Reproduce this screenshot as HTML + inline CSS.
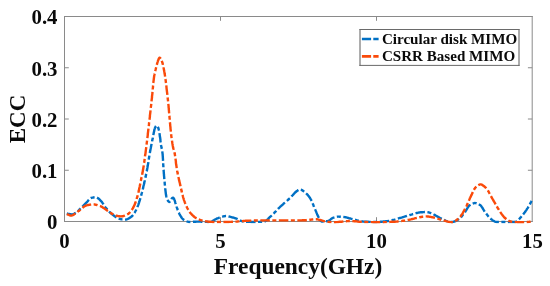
<!DOCTYPE html>
<html><head><meta charset="utf-8"><title>ECC vs Frequency</title>
<style>html,body{margin:0;padding:0;background:#fff;overflow:hidden}</style></head>
<body>
<svg width="550" height="286" viewBox="0 0 550 286" style="display:block">
<rect width="550" height="286" fill="#fff"/>
<g stroke="#8a8a8a" stroke-width="1" fill="none">
<path d="M64.5,16.0V222.0M532.2,16.0V222.0M64.0,16.5H532.7M64.0,221.5H532.7"/>
<path d="M220.5,221.5v-4.3M220.5,16.5v4.3"/>
<path d="M376.5,221.5v-4.3M376.5,16.5v4.3"/>
<path d="M64.5,170.25h4.3M532.2,170.25h-4.3"/>
<path d="M64.5,119.0h4.3M532.2,119.0h-4.3"/>
<path d="M64.5,67.75h4.3M532.2,67.75h-4.3"/>
</g>
<clipPath id="c"><rect x="63.5" y="16.5" width="470.0" height="207.0"/></clipPath>
<g fill="none" stroke-width="2.4" stroke-dasharray="9.5 2.5 4 2.5" stroke-linejoin="round" clip-path="url(#c)">
<path stroke="#0070C4" d="M66.8,213.4 L67.6,213.7 L68.3,213.9 L69.1,214.0 L69.9,214.2 L70.7,214.3 L71.5,214.4 L72.3,214.4 L73.0,214.2 L73.8,213.9 L74.5,213.5 L75.2,213.0 L75.9,212.6 L76.5,212.1 L77.2,211.6 L77.8,211.1 L78.4,210.6 L79.0,210.0 L79.5,209.4 L80.1,208.9 L80.7,208.3 L81.3,207.8 L81.9,207.2 L82.4,206.7 L83.0,206.1 L83.5,205.5 L84.1,204.9 L84.7,204.4 L85.2,203.8 L85.8,203.2 L86.4,202.7 L86.9,202.1 L87.5,201.5 L88.0,200.8 L88.5,200.1 L89.1,199.5 L89.6,198.9 L90.2,198.4 L90.9,198.0 L91.6,197.8 L92.3,197.6 L93.2,197.5 L94.0,197.3 L94.8,197.2 L95.6,197.2 L96.3,197.3 L97.0,197.6 L97.7,198.0 L98.4,198.6 L99.1,199.1 L99.7,199.7 L100.3,200.3 L100.8,200.8 L101.4,201.4 L101.9,202.0 L102.3,202.6 L102.8,203.3 L103.2,204.0 L103.7,204.7 L104.1,205.4 L104.6,206.1 L105.0,206.7 L105.5,207.4 L106.0,208.0 L106.5,208.6 L107.0,209.2 L107.6,209.8 L108.1,210.4 L108.7,211.0 L109.2,211.6 L109.8,212.2 L110.4,212.8 L111.0,213.3 L111.6,213.8 L112.2,214.3 L112.8,214.8 L113.4,215.3 L114.1,215.8 L114.7,216.3 L115.4,216.8 L116.1,217.2 L116.8,217.7 L117.5,218.1 L118.2,218.4 L118.9,218.7 L119.7,218.9 L120.4,219.1 L121.2,219.2 L122.0,219.4 L122.8,219.5 L123.7,219.5 L124.5,219.6 L125.2,219.6 L126.0,219.5 L126.8,219.3 L127.6,219.0 L128.4,218.6 L129.1,218.2 L129.8,217.8 L130.5,217.4 L131.1,216.9 L131.6,216.5 L132.2,216.0 L132.7,215.4 L133.2,214.8 L133.7,214.1 L134.1,213.4 L134.6,212.7 L135.0,212.0 L135.4,211.2 L135.8,210.5 L136.2,209.7 L136.5,209.0 L136.9,208.3 L137.2,207.6 L137.5,206.8 L137.8,206.1 L138.1,205.4 L138.4,204.6 L138.6,203.9 L138.9,203.1 L139.1,202.3 L139.4,201.5 L139.6,200.8 L139.9,200.0 L140.1,199.2 L140.3,198.4 L140.5,197.7 L140.7,196.9 L141.0,196.1 L141.2,195.4 L141.4,194.6 L141.6,193.8 L141.8,193.0 L142.0,192.3 L142.2,191.5 L142.4,190.7 L142.6,189.9 L142.8,189.1 L143.0,188.4 L143.2,187.6 L143.3,186.8 L143.5,186.0 L143.7,185.2 L143.9,184.5 L144.1,183.7 L144.3,182.9 L144.4,182.1 L144.6,181.3 L144.8,180.6 L145.0,179.8 L145.1,179.0 L145.3,178.2 L145.5,177.4 L145.7,176.6 L145.8,175.9 L146.0,175.1 L146.1,174.3 L146.3,173.5 L146.5,172.7 L146.6,171.9 L146.8,171.2 L146.9,170.4 L147.1,169.6 L147.2,168.8 L147.4,168.0 L147.5,167.2 L147.6,166.4 L147.8,165.6 L147.9,164.8 L148.0,164.1 L148.2,163.3 L148.3,162.5 L148.4,161.7 L148.5,160.9 L148.7,160.1 L148.8,159.3 L148.9,158.5 L149.0,157.7 L149.2,156.9 L149.3,156.1 L149.4,155.4 L149.6,154.6 L149.7,153.8 L149.8,153.0 L150.0,152.2 L150.1,151.4 L150.3,150.6 L150.4,149.8 L150.6,149.0 L150.7,148.3 L150.9,147.5 L151.0,146.7 L151.2,145.9 L151.3,145.1 L151.5,144.3 L151.6,143.5 L151.8,142.8 L152.0,142.0 L152.1,141.2 L152.3,140.4 L152.4,139.6 L152.6,138.8 L152.8,138.1 L152.9,137.3 L153.1,136.5 L153.3,135.7 L153.4,134.9 L153.5,134.1 L153.7,133.3 L153.8,132.5 L154.0,131.7 L154.2,130.9 L154.3,130.1 L154.5,129.3 L154.8,128.6 L155.0,127.9 L155.4,127.1 L155.9,126.2 L156.4,125.7 L156.9,125.7 L157.4,126.2 L157.9,127.1 L158.3,127.9 L158.5,128.6 L158.7,129.4 L158.9,130.1 L159.1,130.9 L159.2,131.7 L159.4,132.5 L159.5,133.3 L159.6,134.1 L159.7,134.9 L159.8,135.8 L159.9,136.6 L160.1,137.4 L160.2,138.1 L160.3,138.9 L160.4,139.7 L160.4,140.5 L160.5,141.3 L160.6,142.1 L160.7,142.9 L160.8,143.7 L160.9,144.5 L161.0,145.3 L161.2,146.1 L161.4,146.9 L161.5,147.7 L161.7,148.4 L161.9,149.2 L162.1,150.0 L162.2,150.8 L162.3,151.6 L162.4,152.4 L162.5,153.2 L162.6,154.0 L162.7,154.8 L162.7,155.6 L162.8,156.3 L162.8,157.1 L162.9,157.9 L162.9,158.7 L163.0,159.5 L163.0,160.3 L163.1,161.1 L163.1,162.0 L163.2,162.8 L163.2,163.6 L163.2,164.4 L163.3,165.2 L163.3,166.0 L163.4,166.8 L163.4,167.6 L163.5,168.4 L163.5,169.2 L163.6,170.0 L163.7,170.8 L163.7,171.6 L163.8,172.4 L163.8,173.2 L163.9,174.0 L164.0,174.8 L164.0,175.6 L164.1,176.4 L164.2,177.2 L164.2,178.0 L164.3,178.8 L164.4,179.5 L164.4,180.3 L164.5,181.1 L164.6,181.9 L164.7,182.7 L164.7,183.5 L164.8,184.3 L164.9,185.1 L165.0,185.9 L165.1,186.7 L165.2,187.5 L165.2,188.4 L165.3,189.2 L165.4,190.0 L165.5,190.8 L165.6,191.7 L165.7,192.5 L165.8,193.3 L165.9,194.1 L166.0,194.9 L166.2,195.7 L166.3,196.5 L166.5,197.2 L166.7,197.9 L166.9,198.6 L167.1,199.4 L167.6,200.2 L168.1,201.0 L168.7,201.6 L169.3,202.0 L169.7,201.8 L170.1,201.2 L170.5,200.3 L171.0,199.5 L171.5,198.8 L172.2,198.1 L172.8,197.7 L173.3,197.7 L173.7,198.3 L174.2,199.2 L174.5,200.0 L174.8,200.7 L175.0,201.5 L175.2,202.3 L175.4,203.1 L175.7,203.8 L175.9,204.6 L176.1,205.4 L176.4,206.1 L176.6,206.9 L176.9,207.7 L177.2,208.4 L177.4,209.2 L177.7,210.0 L178.0,210.7 L178.3,211.5 L178.6,212.2 L179.0,212.9 L179.3,213.7 L179.6,214.4 L180.0,215.0 L180.4,215.7 L180.9,216.4 L181.3,217.2 L181.8,217.9 L182.3,218.5 L182.9,219.1 L183.4,219.6 L184.0,220.0 L184.7,220.4 L185.4,220.7 L186.1,221.1 L186.9,221.4 L187.7,221.6 L188.5,221.8 L189.3,222.0 L190.1,222.0 L190.9,222.0 L191.7,222.0 L192.5,221.9 L193.3,221.8 L194.1,221.8 L194.9,221.7 L195.7,221.7 L196.5,221.6 L197.3,221.6 L198.1,221.6 L198.9,221.6 L199.7,221.6 L200.6,221.6 L201.4,221.7 L202.2,221.7 L203.0,221.7 L203.8,221.8 L204.6,221.8 L205.4,221.9 L206.2,221.9 L207.0,221.9 L207.8,222.0 L208.6,222.0 L209.4,222.0 L210.1,222.0 L210.9,221.9 L211.6,221.6 L212.3,221.3 L213.0,220.8 L213.7,220.4 L214.4,219.9 L215.1,219.5 L215.9,219.1 L216.6,218.7 L217.3,218.4 L218.1,218.1 L218.8,217.8 L219.5,217.5 L220.3,217.2 L221.1,217.0 L221.8,216.8 L222.6,216.6 L223.4,216.4 L224.2,216.2 L225.0,216.1 L225.8,216.0 L226.6,216.0 L227.4,216.1 L228.1,216.3 L228.9,216.5 L229.7,216.7 L230.5,216.9 L231.3,217.1 L232.0,217.3 L232.8,217.5 L233.6,217.7 L234.4,218.0 L235.1,218.2 L235.9,218.5 L236.6,218.7 L237.4,219.0 L238.1,219.4 L238.9,219.8 L239.6,220.1 L240.3,220.5 L241.1,220.8 L241.8,221.1 L242.6,221.3 L243.3,221.5 L244.1,221.6 L244.9,221.7 L245.7,221.7 L246.5,221.8 L247.3,221.8 L248.1,221.9 L248.9,221.9 L249.7,221.9 L250.5,221.9 L251.3,222.0 L252.1,222.0 L252.9,222.0 L253.7,222.0 L254.5,222.0 L255.3,222.0 L256.2,222.0 L257.0,222.0 L257.8,221.9 L258.6,221.9 L259.5,221.9 L260.3,221.8 L261.1,221.8 L261.9,221.8 L262.6,221.7 L263.4,221.7 L264.1,221.6 L264.8,221.4 L265.5,221.1 L266.1,220.7 L266.8,220.2 L267.4,219.6 L268.0,219.0 L268.6,218.3 L269.2,217.7 L269.8,217.2 L270.4,216.6 L271.0,216.1 L271.6,215.6 L272.2,215.0 L272.7,214.4 L273.3,213.9 L273.9,213.3 L274.4,212.7 L275.0,212.1 L275.5,211.6 L276.1,211.0 L276.6,210.4 L277.2,209.8 L277.8,209.2 L278.3,208.7 L278.9,208.1 L279.5,207.5 L280.0,207.0 L280.6,206.4 L281.2,205.9 L281.8,205.3 L282.4,204.8 L283.0,204.3 L283.6,203.7 L284.2,203.2 L284.8,202.7 L285.4,202.2 L286.0,201.6 L286.6,201.1 L287.2,200.6 L287.8,200.0 L288.4,199.5 L289.0,199.0 L289.6,198.4 L290.2,197.9 L290.7,197.3 L291.3,196.7 L291.8,196.1 L292.4,195.5 L292.9,194.9 L293.5,194.3 L294.0,193.7 L294.6,193.1 L295.1,192.5 L295.7,192.0 L296.3,191.5 L296.9,191.0 L297.6,190.6 L298.3,190.1 L299.0,189.7 L299.8,189.4 L300.5,189.5 L301.2,189.7 L301.9,190.1 L302.6,190.6 L303.3,191.1 L304.0,191.6 L304.6,192.1 L305.2,192.6 L305.8,193.1 L306.4,193.7 L307.0,194.2 L307.6,194.8 L308.1,195.5 L308.6,196.1 L309.1,196.7 L309.6,197.4 L310.0,198.0 L310.4,198.7 L310.8,199.3 L311.2,200.0 L311.5,200.7 L311.9,201.5 L312.2,202.2 L312.5,202.9 L312.8,203.7 L313.1,204.4 L313.4,205.2 L313.7,206.0 L314.0,206.7 L314.3,207.5 L314.7,208.2 L315.0,208.9 L315.3,209.7 L315.6,210.4 L315.9,211.2 L316.2,211.9 L316.5,212.7 L316.8,213.4 L317.1,214.2 L317.4,214.9 L317.8,215.7 L318.1,216.4 L318.5,217.1 L318.9,217.8 L319.3,218.5 L319.7,219.2 L320.2,220.1 L320.7,220.8 L321.3,221.3 L321.9,221.6 L322.5,221.6 L323.3,221.6 L324.1,221.5 L324.9,221.4 L325.8,221.3 L326.6,221.2 L327.4,221.1 L328.2,221.0 L328.9,220.7 L329.6,220.3 L330.2,219.8 L330.9,219.2 L331.5,218.7 L332.2,218.2 L332.9,217.8 L333.6,217.6 L334.4,217.3 L335.2,217.1 L336.0,216.9 L336.8,216.7 L337.5,216.6 L338.3,216.6 L339.1,216.6 L339.9,216.7 L340.7,216.7 L341.5,216.8 L342.3,216.8 L343.1,216.9 L343.9,217.0 L344.7,217.1 L345.5,217.2 L346.3,217.4 L347.1,217.6 L347.8,217.8 L348.6,218.0 L349.4,218.3 L350.2,218.5 L350.9,218.7 L351.7,218.9 L352.5,219.1 L353.3,219.3 L354.1,219.5 L354.8,219.7 L355.6,219.9 L356.4,220.1 L357.2,220.4 L358.0,220.6 L358.7,220.7 L359.5,220.9 L360.3,221.1 L361.1,221.2 L361.9,221.4 L362.7,221.5 L363.5,221.6 L364.2,221.6 L365.0,221.7 L365.8,221.7 L366.6,221.7 L367.4,221.8 L368.2,221.8 L369.0,221.9 L369.8,221.9 L370.6,221.9 L371.4,221.9 L372.2,222.0 L373.0,222.0 L373.9,222.0 L374.7,222.0 L375.5,222.0 L376.3,222.0 L377.1,222.0 L377.9,222.0 L378.7,221.9 L379.5,221.9 L380.3,221.8 L381.1,221.8 L381.9,221.7 L382.7,221.6 L383.5,221.5 L384.3,221.5 L385.1,221.4 L385.9,221.3 L386.6,221.2 L387.4,221.1 L388.2,221.0 L389.0,220.9 L389.8,220.7 L390.6,220.6 L391.4,220.4 L392.1,220.2 L392.9,220.0 L393.7,219.8 L394.5,219.6 L395.2,219.4 L396.0,219.1 L396.8,218.9 L397.6,218.7 L398.3,218.5 L399.1,218.2 L399.9,218.0 L400.7,217.8 L401.4,217.6 L402.2,217.4 L403.0,217.1 L403.7,216.9 L404.5,216.7 L405.3,216.4 L406.0,216.2 L406.8,216.0 L407.6,215.7 L408.3,215.5 L409.1,215.3 L409.9,215.0 L410.6,214.8 L411.4,214.6 L412.2,214.4 L412.9,214.1 L413.7,213.9 L414.5,213.6 L415.3,213.4 L416.0,213.2 L416.8,213.0 L417.6,212.8 L418.4,212.6 L419.1,212.5 L419.9,212.4 L420.7,212.3 L421.5,212.2 L422.3,212.2 L423.1,212.1 L423.9,212.1 L424.7,212.0 L425.5,212.0 L426.3,212.0 L427.1,212.1 L427.9,212.2 L428.7,212.4 L429.5,212.7 L430.2,212.9 L431.0,213.2 L431.7,213.5 L432.5,213.8 L433.2,214.1 L433.9,214.5 L434.6,214.8 L435.3,215.2 L436.0,215.7 L436.7,216.1 L437.4,216.5 L438.1,216.9 L438.8,217.4 L439.5,217.7 L440.2,218.1 L440.9,218.4 L441.6,218.8 L442.4,219.2 L443.1,219.5 L443.8,219.9 L444.6,220.2 L445.3,220.5 L446.0,220.8 L446.8,221.1 L447.6,221.3 L448.3,221.5 L449.1,221.6 L449.9,221.8 L450.7,221.9 L451.5,222.0 L452.3,222.0 L453.1,221.9 L453.8,221.7 L454.6,221.5 L455.4,221.1 L456.1,220.8 L456.9,220.3 L457.6,219.9 L458.3,219.5 L458.9,219.1 L459.5,218.6 L460.1,218.1 L460.7,217.6 L461.2,217.0 L461.7,216.4 L462.2,215.7 L462.7,215.1 L463.2,214.4 L463.7,213.7 L464.2,213.1 L464.7,212.4 L465.2,211.8 L465.6,211.1 L466.1,210.4 L466.5,209.7 L466.9,208.9 L467.4,208.2 L467.8,207.5 L468.3,206.8 L468.7,206.2 L469.2,205.6 L469.8,205.2 L470.4,204.8 L471.1,204.3 L471.8,203.9 L472.6,203.6 L473.4,203.3 L474.2,203.1 L474.9,203.0 L475.7,203.1 L476.5,203.2 L477.3,203.5 L478.0,203.9 L478.8,204.3 L479.5,204.7 L480.1,205.1 L480.7,205.5 L481.2,206.1 L481.6,206.7 L482.1,207.3 L482.5,208.0 L483.0,208.8 L483.4,209.5 L483.8,210.2 L484.3,211.0 L484.7,211.6 L485.2,212.3 L485.7,212.9 L486.2,213.6 L486.7,214.2 L487.2,214.9 L487.7,215.6 L488.2,216.2 L488.7,216.8 L489.2,217.4 L489.8,218.0 L490.4,218.5 L491.0,219.0 L491.6,219.4 L492.2,219.9 L492.9,220.4 L493.7,220.9 L494.4,221.3 L495.1,221.6 L495.9,221.9 L496.7,222.0 L497.4,222.0 L498.2,222.0 L499.0,222.0 L499.8,222.0 L500.6,222.0 L501.4,222.0 L502.2,222.0 L503.0,222.0 L503.8,222.0 L504.6,222.0 L505.5,222.0 L506.3,222.0 L507.1,222.0 L507.9,222.0 L508.7,222.0 L509.6,222.0 L510.4,222.0 L511.2,222.0 L512.0,222.0 L512.8,222.0 L513.6,222.0 L514.3,222.0 L515.1,222.0 L515.7,221.9 L516.4,221.6 L517.1,221.2 L517.7,220.7 L518.3,220.1 L518.9,219.4 L519.5,218.7 L520.1,218.0 L520.6,217.4 L521.2,216.8 L521.7,216.2 L522.2,215.6 L522.7,215.0 L523.2,214.4 L523.7,213.7 L524.2,213.1 L524.7,212.4 L525.2,211.8 L525.6,211.1 L526.1,210.4 L526.5,209.8 L526.9,209.1 L527.4,208.4 L527.8,207.8 L528.2,207.1 L528.6,206.4 L529.0,205.7 L529.4,205.0 L529.8,204.3 L530.2,203.6 L530.6,202.9 L530.9,202.2 L531.3,201.5 L531.7,200.7 L532.0,200.0"/>
<path stroke="#FA4A0A" d="M66.8,214.2 L67.6,214.5 L68.3,214.7 L69.1,215.0 L69.8,215.4 L70.6,215.6 L71.4,215.6 L72.1,215.4 L72.8,215.1 L73.6,214.7 L74.3,214.2 L75.0,213.8 L75.7,213.4 L76.3,212.9 L77.0,212.5 L77.6,211.9 L78.2,211.4 L78.8,210.9 L79.5,210.4 L80.1,209.9 L80.7,209.4 L81.4,208.9 L82.0,208.3 L82.6,207.7 L83.3,207.2 L83.9,206.7 L84.5,206.3 L85.2,205.9 L85.9,205.6 L86.6,205.4 L87.4,205.2 L88.2,205.0 L89.0,204.9 L89.8,204.7 L90.6,204.6 L91.4,204.5 L92.2,204.4 L93.0,204.4 L93.8,204.4 L94.6,204.5 L95.4,204.7 L96.2,204.8 L97.0,205.0 L97.8,205.3 L98.5,205.5 L99.3,205.8 L100.0,206.0 L100.8,206.3 L101.5,206.6 L102.2,207.0 L102.8,207.4 L103.5,207.9 L104.2,208.3 L104.8,208.8 L105.5,209.3 L106.2,209.8 L106.8,210.2 L107.5,210.7 L108.2,211.1 L108.9,211.6 L109.6,212.0 L110.2,212.5 L110.9,212.9 L111.6,213.4 L112.3,213.9 L113.0,214.3 L113.7,214.7 L114.4,215.0 L115.1,215.3 L115.8,215.6 L116.6,215.7 L117.4,215.9 L118.2,216.1 L119.0,216.2 L119.8,216.3 L120.6,216.4 L121.4,216.4 L122.1,216.3 L123.0,216.2 L123.8,215.9 L124.6,215.7 L125.4,215.4 L126.1,215.0 L126.8,214.7 L127.5,214.3 L128.1,213.9 L128.7,213.5 L129.3,213.0 L129.8,212.5 L130.4,211.9 L130.9,211.2 L131.4,210.5 L131.9,209.8 L132.3,209.1 L132.8,208.4 L133.2,207.6 L133.6,206.9 L133.9,206.2 L134.2,205.5 L134.6,204.8 L134.9,204.0 L135.2,203.3 L135.4,202.6 L135.7,201.8 L136.0,201.0 L136.2,200.3 L136.5,199.5 L136.7,198.7 L136.9,197.9 L137.2,197.2 L137.4,196.4 L137.6,195.6 L137.8,194.8 L138.0,194.0 L138.2,193.3 L138.4,192.5 L138.6,191.7 L138.8,190.9 L138.9,190.2 L139.1,189.4 L139.3,188.6 L139.4,187.8 L139.6,187.0 L139.8,186.2 L139.9,185.4 L140.1,184.7 L140.2,183.9 L140.4,183.1 L140.5,182.3 L140.7,181.5 L140.9,180.7 L141.0,179.9 L141.2,179.1 L141.3,178.4 L141.5,177.6 L141.7,176.8 L141.8,176.0 L142.0,175.2 L142.2,174.4 L142.3,173.7 L142.5,172.9 L142.6,172.1 L142.8,171.3 L142.9,170.5 L143.0,169.7 L143.2,168.9 L143.3,168.1 L143.4,167.3 L143.6,166.6 L143.7,165.8 L143.8,165.0 L143.9,164.2 L144.0,163.4 L144.2,162.6 L144.3,161.8 L144.4,161.0 L144.5,160.2 L144.6,159.4 L144.7,158.6 L144.8,157.8 L144.9,157.0 L145.0,156.2 L145.1,155.4 L145.3,154.6 L145.4,153.9 L145.5,153.1 L145.6,152.3 L145.7,151.5 L145.8,150.7 L145.9,149.9 L146.0,149.1 L146.1,148.3 L146.2,147.5 L146.3,146.7 L146.4,145.9 L146.5,145.1 L146.6,144.3 L146.7,143.5 L146.8,142.7 L146.9,141.9 L147.0,141.1 L147.1,140.3 L147.2,139.5 L147.3,138.8 L147.4,138.0 L147.5,137.2 L147.6,136.4 L147.7,135.6 L147.8,134.8 L147.8,134.0 L147.9,133.2 L148.0,132.4 L148.1,131.6 L148.2,130.8 L148.3,130.0 L148.4,129.2 L148.5,128.4 L148.6,127.6 L148.7,126.8 L148.8,126.0 L148.9,125.2 L149.0,124.4 L149.0,123.6 L149.1,122.8 L149.2,122.0 L149.3,121.2 L149.4,120.4 L149.5,119.6 L149.6,118.9 L149.7,118.1 L149.8,117.3 L149.9,116.5 L149.9,115.7 L150.0,114.9 L150.1,114.1 L150.2,113.3 L150.3,112.5 L150.4,111.7 L150.5,110.9 L150.6,110.1 L150.7,109.3 L150.7,108.5 L150.8,107.7 L150.9,106.9 L151.0,106.1 L151.1,105.3 L151.2,104.5 L151.3,103.7 L151.4,102.9 L151.4,102.1 L151.5,101.3 L151.6,100.5 L151.7,99.7 L151.8,98.9 L151.9,98.1 L152.0,97.3 L152.0,96.5 L152.1,95.7 L152.2,95.0 L152.3,94.2 L152.4,93.4 L152.4,92.6 L152.5,91.8 L152.6,91.0 L152.7,90.2 L152.7,89.4 L152.8,88.6 L152.9,87.8 L153.0,87.0 L153.0,86.2 L153.1,85.4 L153.2,84.6 L153.3,83.8 L153.3,83.0 L153.4,82.2 L153.5,81.4 L153.6,80.6 L153.7,79.8 L153.8,79.0 L153.9,78.2 L154.0,77.4 L154.1,76.6 L154.2,75.8 L154.4,75.0 L154.5,74.3 L154.7,73.5 L154.8,72.7 L155.0,71.9 L155.2,71.1 L155.4,70.3 L155.6,69.6 L155.8,68.8 L156.0,68.0 L156.2,67.2 L156.4,66.5 L156.6,65.7 L156.8,64.9 L157.0,64.1 L157.2,63.3 L157.4,62.6 L157.7,61.8 L157.9,61.0 L158.2,60.3 L158.5,59.5 L158.8,58.6 L159.3,57.8 L159.7,57.6 L160.2,58.0 L160.8,58.8 L161.2,59.6 L161.6,60.3 L161.8,61.0 L162.1,61.7 L162.3,62.5 L162.6,63.3 L162.8,64.1 L162.9,64.9 L163.1,65.7 L163.3,66.5 L163.5,67.3 L163.6,68.0 L163.8,68.8 L163.9,69.6 L164.1,70.4 L164.2,71.2 L164.4,72.0 L164.5,72.8 L164.6,73.6 L164.8,74.4 L164.9,75.1 L165.0,75.9 L165.1,76.7 L165.2,77.5 L165.3,78.3 L165.4,79.1 L165.6,79.9 L165.7,80.7 L165.8,81.5 L165.9,82.3 L166.0,83.1 L166.1,83.9 L166.2,84.7 L166.3,85.5 L166.4,86.3 L166.5,87.1 L166.5,87.9 L166.6,88.7 L166.7,89.5 L166.8,90.2 L166.9,91.0 L167.0,91.8 L167.1,92.6 L167.2,93.4 L167.3,94.2 L167.4,95.0 L167.5,95.8 L167.6,96.6 L167.6,97.4 L167.7,98.2 L167.8,99.0 L167.9,99.8 L168.0,100.6 L168.1,101.4 L168.2,102.2 L168.2,103.0 L168.3,103.8 L168.4,104.6 L168.5,105.4 L168.6,106.2 L168.6,107.0 L168.7,107.8 L168.8,108.6 L168.8,109.4 L168.9,110.2 L169.0,111.0 L169.0,111.8 L169.1,112.6 L169.2,113.4 L169.3,114.2 L169.3,115.0 L169.4,115.8 L169.5,116.6 L169.5,117.4 L169.6,118.2 L169.7,119.0 L169.7,119.8 L169.8,120.6 L169.9,121.4 L169.9,122.2 L170.0,123.0 L170.1,123.8 L170.2,124.6 L170.2,125.4 L170.3,126.2 L170.4,127.0 L170.5,127.8 L170.5,128.6 L170.6,129.4 L170.7,130.2 L170.8,131.0 L170.9,131.8 L171.0,132.6 L171.1,133.4 L171.1,134.2 L171.2,135.0 L171.3,135.8 L171.4,136.6 L171.5,137.4 L171.6,138.2 L171.7,139.0 L171.9,139.7 L172.0,140.5 L172.1,141.3 L172.2,142.1 L172.3,142.9 L172.4,143.7 L172.6,144.5 L172.7,145.3 L172.8,146.0 L173.0,146.8 L173.1,147.6 L173.3,148.4 L173.6,149.1 L173.8,149.9 L174.1,150.7 L174.3,151.4 L174.4,152.2 L174.6,153.0 L174.7,153.8 L174.9,154.6 L175.0,155.4 L175.1,156.2 L175.2,156.9 L175.3,157.7 L175.5,158.5 L175.6,159.3 L175.7,160.1 L175.8,160.9 L175.9,161.7 L175.9,162.5 L176.0,163.3 L176.1,164.1 L176.2,164.9 L176.4,165.7 L176.5,166.5 L176.6,167.3 L176.7,168.1 L176.8,168.9 L176.9,169.7 L177.1,170.5 L177.2,171.3 L177.4,172.0 L177.5,172.8 L177.7,173.6 L177.8,174.4 L178.0,175.2 L178.2,176.0 L178.3,176.7 L178.5,177.5 L178.7,178.3 L178.9,179.1 L179.0,179.9 L179.2,180.7 L179.4,181.4 L179.6,182.2 L179.8,183.0 L180.0,183.8 L180.1,184.6 L180.3,185.3 L180.5,186.1 L180.7,186.9 L180.8,187.7 L181.0,188.5 L181.2,189.3 L181.4,190.1 L181.5,190.8 L181.7,191.6 L181.9,192.4 L182.1,193.2 L182.3,194.0 L182.5,194.8 L182.7,195.5 L182.9,196.3 L183.1,197.1 L183.3,197.8 L183.6,198.6 L183.8,199.4 L184.0,200.1 L184.3,200.9 L184.6,201.6 L184.8,202.4 L185.1,203.1 L185.4,203.9 L185.7,204.7 L186.0,205.4 L186.4,206.2 L186.7,206.9 L187.1,207.6 L187.4,208.3 L187.8,209.0 L188.2,209.7 L188.6,210.4 L189.0,211.0 L189.5,211.7 L189.9,212.3 L190.4,213.0 L191.0,213.6 L191.5,214.2 L192.1,214.8 L192.7,215.4 L193.3,216.0 L193.9,216.5 L194.5,217.0 L195.2,217.5 L195.8,217.9 L196.5,218.3 L197.2,218.6 L197.9,219.0 L198.6,219.3 L199.4,219.6 L200.1,219.9 L200.9,220.2 L201.7,220.5 L202.5,220.7 L203.3,220.9 L204.0,221.0 L204.8,221.1 L205.6,221.3 L206.4,221.4 L207.2,221.5 L208.0,221.6 L208.8,221.7 L209.6,221.8 L210.4,221.8 L211.2,221.9 L212.0,221.9 L212.8,222.0 L213.6,222.0 L214.4,222.0 L215.2,222.0 L216.0,222.0 L216.8,222.0 L217.6,222.0 L218.4,222.0 L219.2,222.0 L220.0,222.0 L220.8,222.0 L221.6,222.0 L222.4,222.0 L223.2,222.0 L224.0,222.0 L224.8,222.0 L225.6,222.0 L226.4,222.0 L227.2,222.0 L228.0,222.0 L228.8,222.0 L229.6,221.9 L230.4,221.9 L231.2,221.9 L232.0,221.8 L232.8,221.8 L233.6,221.7 L234.4,221.7 L235.2,221.6 L236.0,221.6 L236.8,221.6 L237.6,221.5 L238.4,221.4 L239.2,221.4 L240.0,221.3 L240.8,221.3 L241.6,221.2 L242.4,221.1 L243.2,221.0 L244.0,221.0 L244.8,220.9 L245.6,220.8 L246.4,220.8 L247.2,220.7 L248.0,220.7 L248.8,220.6 L249.6,220.6 L250.4,220.6 L251.2,220.6 L252.0,220.5 L252.8,220.5 L253.6,220.5 L254.4,220.5 L255.2,220.5 L256.0,220.4 L256.8,220.4 L257.6,220.4 L258.4,220.4 L259.2,220.4 L260.0,220.4 L260.8,220.4 L261.6,220.4 L262.4,220.4 L263.2,220.4 L264.0,220.4 L264.8,220.4 L265.6,220.4 L266.4,220.4 L267.3,220.4 L268.1,220.4 L268.9,220.4 L269.7,220.4 L270.5,220.4 L271.3,220.4 L272.1,220.4 L272.9,220.4 L273.7,220.4 L274.5,220.4 L275.3,220.4 L276.1,220.4 L276.9,220.4 L277.7,220.4 L278.5,220.4 L279.3,220.4 L280.1,220.4 L280.9,220.4 L281.7,220.4 L282.5,220.4 L283.3,220.4 L284.1,220.4 L284.9,220.4 L285.7,220.4 L286.5,220.4 L287.3,220.4 L288.1,220.4 L288.9,220.4 L289.7,220.4 L290.5,220.4 L291.3,220.4 L292.1,220.4 L292.9,220.4 L293.7,220.4 L294.5,220.4 L295.3,220.4 L296.1,220.4 L296.9,220.4 L297.7,220.4 L298.5,220.4 L299.3,220.4 L300.1,220.4 L300.9,220.4 L301.7,220.4 L302.5,220.3 L303.3,220.3 L304.1,220.3 L304.9,220.2 L305.7,220.2 L306.5,220.1 L307.3,220.0 L308.1,220.0 L308.9,219.9 L309.7,219.8 L310.5,219.7 L311.3,219.6 L312.1,219.5 L312.9,219.4 L313.7,219.3 L314.5,219.3 L315.3,219.2 L316.1,219.2 L316.9,219.3 L317.7,219.4 L318.4,219.6 L319.2,219.8 L320.0,220.0 L320.8,220.2 L321.6,220.4 L322.3,220.7 L323.1,220.9 L323.9,221.1 L324.6,221.3 L325.4,221.5 L326.2,221.6 L327.0,221.7 L327.8,221.8 L328.6,221.9 L329.4,222.0 L330.2,222.0 L331.0,222.1 L331.8,222.1 L332.6,222.2 L333.4,222.2 L334.2,222.2 L335.0,222.2 L335.8,222.2 L336.6,222.1 L337.4,222.1 L338.2,222.0 L339.0,221.9 L339.8,221.8 L340.6,221.8 L341.4,221.7 L342.2,221.6 L343.0,221.5 L343.8,221.4 L344.6,221.3 L345.4,221.2 L346.2,221.2 L347.0,221.1 L347.8,221.1 L348.6,221.0 L349.4,221.0 L350.2,221.0 L351.0,221.0 L351.8,221.0 L352.6,221.1 L353.4,221.1 L354.2,221.2 L355.0,221.3 L355.8,221.3 L356.6,221.4 L357.4,221.5 L358.2,221.6 L359.0,221.7 L359.8,221.7 L360.6,221.8 L361.4,221.9 L362.2,221.9 L363.0,222.0 L363.8,222.0 L364.6,222.0 L365.4,222.0 L366.2,222.0 L367.0,222.1 L367.8,222.1 L368.6,222.1 L369.4,222.1 L370.2,222.1 L371.0,222.1 L371.8,222.1 L372.6,222.2 L373.4,222.2 L374.2,222.2 L375.0,222.2 L375.8,222.2 L376.6,222.2 L377.4,222.2 L378.2,222.2 L379.0,222.2 L379.8,222.2 L380.6,222.2 L381.4,222.2 L382.2,222.2 L383.0,222.2 L383.8,222.2 L384.6,222.1 L385.4,222.1 L386.2,222.1 L387.0,222.1 L387.8,222.0 L388.6,222.0 L389.4,222.0 L390.2,221.9 L391.0,221.9 L391.8,221.8 L392.6,221.8 L393.4,221.8 L394.2,221.7 L395.0,221.7 L395.8,221.6 L396.6,221.6 L397.4,221.5 L398.2,221.4 L399.0,221.3 L399.8,221.3 L400.6,221.2 L401.4,221.1 L402.2,220.9 L403.0,220.8 L403.8,220.7 L404.6,220.6 L405.4,220.4 L406.2,220.3 L406.9,220.2 L407.7,220.0 L408.5,219.9 L409.3,219.7 L410.1,219.6 L410.9,219.4 L411.6,219.2 L412.4,219.0 L413.2,218.8 L414.0,218.6 L414.7,218.3 L415.5,218.1 L416.3,218.0 L417.1,217.8 L417.9,217.6 L418.7,217.5 L419.4,217.3 L420.2,217.2 L421.0,217.0 L421.8,216.8 L422.6,216.7 L423.4,216.6 L424.2,216.5 L425.0,216.4 L425.8,216.4 L426.6,216.4 L427.4,216.5 L428.2,216.5 L429.0,216.6 L429.8,216.8 L430.6,216.9 L431.4,217.1 L432.1,217.2 L432.9,217.4 L433.7,217.5 L434.5,217.7 L435.3,217.9 L436.0,218.1 L436.8,218.4 L437.6,218.6 L438.3,218.9 L439.1,219.1 L439.9,219.4 L440.6,219.6 L441.4,219.8 L442.2,220.0 L443.0,220.3 L443.7,220.5 L444.5,220.7 L445.3,220.9 L446.1,221.2 L446.9,221.4 L447.7,221.6 L448.5,221.8 L449.3,221.9 L450.1,222.1 L450.8,222.1 L451.6,222.2 L452.3,222.2 L453.1,222.1 L453.8,221.8 L454.5,221.5 L455.3,221.1 L456.0,220.6 L456.7,220.0 L457.3,219.5 L458.0,218.9 L458.6,218.4 L459.1,217.9 L459.7,217.3 L460.2,216.8 L460.7,216.2 L461.1,215.5 L461.6,214.8 L462.1,214.2 L462.5,213.5 L462.9,212.8 L463.3,212.0 L463.7,211.3 L464.1,210.6 L464.5,209.9 L464.9,209.2 L465.3,208.5 L465.7,207.8 L466.0,207.1 L466.4,206.3 L466.7,205.6 L467.0,204.9 L467.4,204.1 L467.7,203.4 L468.0,202.7 L468.3,201.9 L468.6,201.2 L468.9,200.5 L469.3,199.7 L469.6,199.0 L469.9,198.2 L470.3,197.5 L470.6,196.8 L471.0,196.1 L471.3,195.4 L471.7,194.6 L472.0,193.8 L472.4,193.1 L472.7,192.3 L473.1,191.5 L473.4,190.8 L473.8,190.1 L474.2,189.4 L474.6,188.7 L475.1,188.1 L475.5,187.5 L476.0,187.0 L476.6,186.5 L477.3,185.9 L478.0,185.4 L478.7,185.0 L479.5,184.6 L480.2,184.4 L480.9,184.4 L481.6,184.6 L482.3,184.9 L483.0,185.4 L483.7,185.9 L484.4,186.5 L485.1,187.1 L485.6,187.6 L486.2,188.2 L486.7,188.8 L487.2,189.4 L487.6,190.0 L488.0,190.6 L488.4,191.3 L488.8,192.0 L489.2,192.8 L489.6,193.5 L490.0,194.2 L490.4,195.0 L490.7,195.7 L491.1,196.4 L491.5,197.2 L491.9,197.9 L492.3,198.6 L492.7,199.2 L493.1,199.9 L493.5,200.6 L493.9,201.3 L494.3,202.0 L494.7,202.7 L495.1,203.4 L495.5,204.1 L495.9,204.8 L496.3,205.5 L496.7,206.2 L497.1,206.9 L497.5,207.6 L497.9,208.3 L498.3,209.0 L498.8,209.6 L499.2,210.3 L499.6,211.0 L500.1,211.7 L500.5,212.4 L501.0,213.1 L501.4,213.7 L501.9,214.4 L502.4,215.1 L502.9,215.7 L503.4,216.3 L503.9,216.9 L504.4,217.5 L505.0,218.0 L505.6,218.5 L506.2,219.0 L506.9,219.5 L507.6,220.0 L508.3,220.5 L509.0,220.9 L509.7,221.2 L510.4,221.5 L511.2,221.6 L511.9,221.7 L512.7,221.8 L513.5,221.9 L514.3,222.0 L515.1,222.0 L515.9,222.1 L516.8,222.1 L517.6,222.2 L518.4,222.2 L519.2,222.2 L520.0,222.2 L520.8,222.2 L521.6,222.2 L522.4,222.2 L523.2,222.2 L524.0,222.1 L524.8,222.1 L525.6,222.1 L526.4,222.1 L527.2,222.0 L528.0,222.0 L528.8,221.9 L529.6,221.8 L530.4,221.8 L531.2,221.7 L532.0,221.6"/>
</g>
<g font-family="'Liberation Serif', serif" font-weight="bold" fill="#0a0a0a">
<g font-size="20.8px">
<text x="64.5" y="247.9" text-anchor="middle">0</text>
<text x="220.5" y="247.9" text-anchor="middle">5</text>
<text x="376.5" y="247.9" text-anchor="middle">10</text>
<text x="532.5" y="247.9" text-anchor="middle">15</text>
<text x="57.5" y="229.4" text-anchor="end">0</text>
<text x="57.5" y="178.2" text-anchor="end">0.1</text>
<text x="57.5" y="126.9" text-anchor="end">0.2</text>
<text x="57.5" y="75.7" text-anchor="end">0.3</text>
<text x="57.5" y="24.4" text-anchor="end">0.4</text>
</g>
<text x="298" y="274" font-size="23.4px" text-anchor="middle">Frequency(GHz)</text>
<text transform="translate(25.2,119.0) rotate(-90)" font-size="23px" text-anchor="middle">ECC</text>
<rect x="360" y="29.5" width="159" height="36" fill="#fff"/>
<path d="M360,29V66M519,29V66" stroke="#5a5a5a" stroke-width="1" fill="none"/>
<path d="M359.5,29.5H519.5M359.5,65.4H519.5" stroke="#6a6a6a" stroke-width="1" fill="none"/>
<path d="M361.9,39h16.7" stroke="#0070C4" stroke-width="2.6" stroke-dasharray="9.2 2.2 5.3 3" fill="none"/>
<path d="M361.9,56.4h16.7" stroke="#FA4A0A" stroke-width="2.6" stroke-dasharray="9.2 2.2 5.3 3" fill="none"/>
<text x="381.9" y="44.4" font-size="15.1px">Circular disk MIMO</text>
<text x="381.9" y="61.1" font-size="15.1px">CSRR Based MIMO</text>
</g>
</svg>
</body></html>
